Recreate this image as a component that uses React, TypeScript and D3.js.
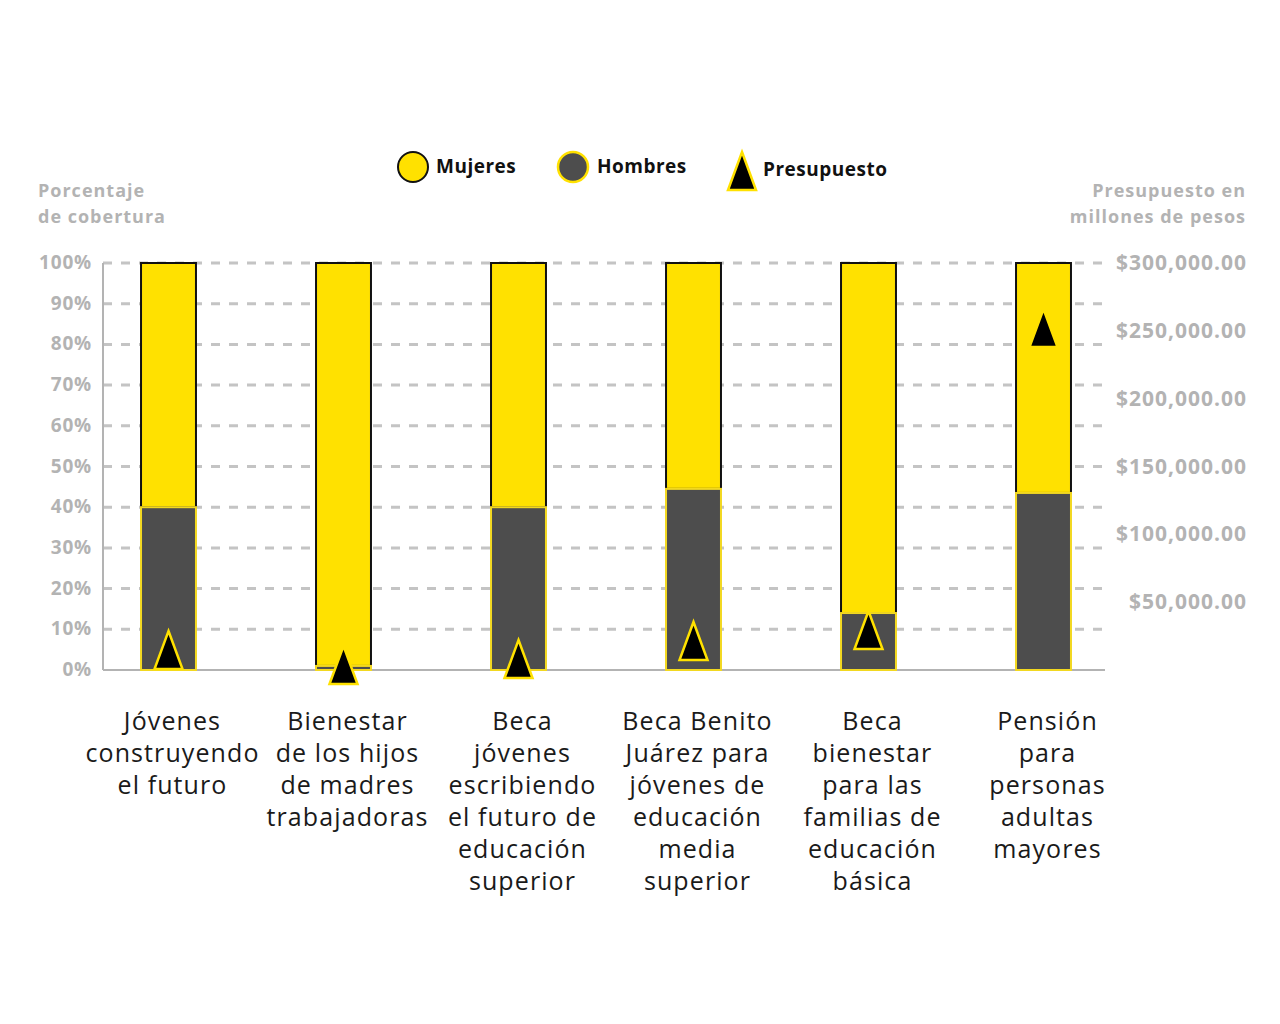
import React from 'react';
import * as d3 from 'd3';

// Programas sociales: cobertura por sexo y presupuesto
const categories = [
  'Jóvenes construyendo el futuro',
  'Bienestar de los hijos de madres trabajadoras',
  'Beca jóvenes escribiendo el futuro de educación superior',
  'Beca Benito Juárez para jóvenes de educación media superior',
  'Beca bienestar para las familias de educación básica',
  'Pensión para personas adultas mayores',
];

const categoryLines = [
  ['Jóvenes', 'construyendo', 'el futuro'],
  ['Bienestar', 'de los hijos', 'de madres', 'trabajadoras'],
  ['Beca', 'jóvenes', 'escribiendo', 'el futuro de', 'educación', 'superior'],
  ['Beca Benito', 'Juárez para', 'jóvenes de', 'educación', 'media', 'superior'],
  ['Beca', 'bienestar', 'para las', 'familias de', 'educación', 'básica'],
  ['Pensión', 'para', 'personas', 'adultas', 'mayores'],
];

// % de cobertura hombres (mujeres = resto hasta 100%)
const hombres = [40, 1, 40, 44.5, 14, 43.5];
// presupuesto en millones de pesos
const presupuesto = [14700, 3700, 8100, 21400, 29500, 252000];

const pctTicks = [0, 10, 20, 30, 40, 50, 60, 70, 80, 90, 100];
const moneyTicks = [50000, 100000, 150000, 200000, 250000, 300000];

const YELLOW = '#ffe100';
const GREY = '#4d4d4d';
const AXIS_GREY = '#b3b3b3';
const FONT = "'Open Sans', Lato, sans-serif";

export default function App() {
  const x = d3.scaleBand<string>()
    .domain(categories)
    .range([81, 1131])
    .paddingInner(0.686)
    .paddingOuter(0.343);

  const yPct = d3.scaleLinear().domain([0, 100]).range([670, 263]);
  const yMoney = d3.scaleLinear().domain([0, 300000]).range([670, 263]);
  const moneyFmt = (v: number) => '$' + d3.format(',.2f')(v);

  const triW = 28;
  const triH = 38;
  const tri = (cx: number, cy: number, w: number, h: number) =>
    `M${cx},${cy - h / 2}L${cx + w / 2},${cy + h / 2}L${cx - w / 2},${cy + h / 2}Z`;

  const gridX0 = 103;
  const gridX1 = 1105;

  return (
    <svg width={1280} height={1024} style={{ position: 'absolute', left: 0, top: 0, background: '#fff' }}
      fontFamily={FONT}>
      {/* títulos de ejes */}
      <g fill={AXIS_GREY} fontWeight={700} fontSize={18} letterSpacing={1}>
        <text x={38} y={197}>Porcentaje</text>
        <text x={38} y={223}>de cobertura</text>
        <text x={1246} y={197} textAnchor="end">Presupuesto en</text>
        <text x={1246} y={223} textAnchor="end">millones de pesos</text>
      </g>

      {/* leyenda */}
      <g fontWeight={700} fontSize={19} fill="#111" letterSpacing={0.5}>
        <circle cx={413} cy={167} r={15} fill={YELLOW} stroke="#111" strokeWidth={2} />
        <text x={436} y={173}>Mujeres</text>
        <circle cx={573} cy={167} r={15} fill={GREY} stroke={YELLOW} strokeWidth={2.5} />
        <text x={597} y={173}>Hombres</text>
        <path d={tri(742, 171, 28, 38)} fill="#000" stroke={YELLOW} strokeWidth={2.5} strokeLinejoin="miter" />
        <text x={763} y={176}>Presupuesto</text>
      </g>

      {/* rejilla */}
      {pctTicks.filter(t => t > 0).map(t => (
        <line key={t} x1={gridX0} x2={gridX1} y1={yPct(t)} y2={yPct(t)}
          stroke="#c4c4c4" strokeWidth={3} strokeDasharray="9 9" />
      ))}
      <line x1={gridX0} x2={gridX0} y1={yPct(100)} y2={yPct(0)} stroke={AXIS_GREY} strokeWidth={2} />
      <line x1={gridX0} x2={gridX1} y1={yPct(0)} y2={yPct(0)} stroke={AXIS_GREY} strokeWidth={2} />

      {/* eje izquierdo */}
      <g fill={AXIS_GREY} fontWeight={700} fontSize={19} textAnchor="end" letterSpacing={0.8}>
        {pctTicks.map(t => (
          <text key={t} x={92} y={yPct(t) + 6}>{t}%</text>
        ))}
      </g>

      {/* eje derecho */}
      <g fill={AXIS_GREY} fontWeight={700} fontSize={21} textAnchor="end" letterSpacing={1}>
        {moneyTicks.map(t => (
          <text key={t} x={1247} y={yMoney(t) + 7}>{moneyFmt(t)}</text>
        ))}
      </g>

      {/* barras */}
      {categories.map((c, i) => {
        const bx = x(c) as number;
        const bw = x.bandwidth();
        return (
          <g key={c}>
            <rect x={bx} y={yPct(100)} width={bw} height={yPct(hombres[i]) - yPct(100)}
              fill={YELLOW} stroke="#111" strokeWidth={2} />
            <rect x={bx} y={yPct(hombres[i])} width={bw} height={yPct(0) - yPct(hombres[i])}
              fill={GREY} stroke="#f2d820" strokeWidth={2} />
          </g>
        );
      })}

      {/* presupuesto */}
      {categories.map((c, i) => {
        const cx = (x(c) as number) + x.bandwidth() / 2;
        return (
          <path key={c} d={tri(cx, yMoney(presupuesto[i]), triW, triH)}
            fill="#000" stroke={YELLOW} strokeWidth={2.5} />
        );
      })}

      {/* etiquetas de categoría */}
      <g fill="#1a1a1a" fontSize={25} textAnchor="middle" letterSpacing={1.1}>
        {categories.map((c, i) => {
          const cx = (x(c) as number) + x.bandwidth() / 2 + 4;
          return (
            <text key={c} x={cx} y={730}>
              {categoryLines[i].map((l, j) => (
                <tspan key={j} x={cx} dy={j === 0 ? 0 : 32}>{l}</tspan>
              ))}
            </text>
          );
        })}
      </g>
    </svg>
  );
}
